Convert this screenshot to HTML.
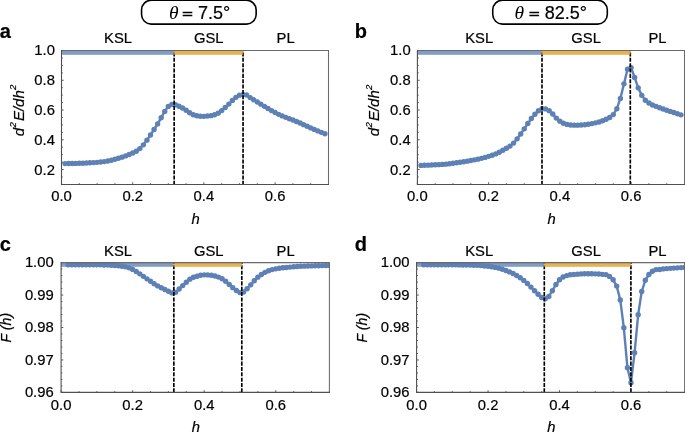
<!DOCTYPE html>
<html lang="en"><head><meta charset="utf-8"><title>Figure</title>
<style>html,body{margin:0;padding:0;background:#fff;}body{width:685px;height:432px;overflow:hidden;}svg{display:block;}text{font-family:"Liberation Sans",Arial,Helvetica,sans-serif;fill:#000;stroke:#000;stroke-width:0.2px;}.t{font-size:14.8px;}.pl{font-size:20px;font-weight:bold;}.it{font-style:italic;}.ti{font-size:18px;}.th{font-family:"Liberation Serif","Times New Roman",serif;font-style:italic;font-size:19.5px;stroke-width:0;}.yl{font-size:15px;}</style></head><body>
<svg width="685" height="432" viewBox="0 0 685 432">
<rect width="685" height="432" fill="#fff"/>
<rect x="141.55" y="0.25" width="114.60" height="23.85" rx="9.6" ry="9.6" fill="#fff" stroke="#000" stroke-width="1.6"/>
<text class="th" x="169.0" y="18.9">θ</text>
<text class="ti" transform="translate(182.2 17.6) scale(1 0.69)" style="stroke-width:0.9px">=</text>
<text class="ti" x="198.0" y="19.3">7.5°</text>
<rect x="492.75" y="0.25" width="114.55" height="23.85" rx="9.6" ry="9.6" fill="#fff" stroke="#000" stroke-width="1.6"/>
<text class="th" x="514.4" y="18.9">θ</text>
<text class="ti" transform="translate(529.0 17.6) scale(1 0.69)" style="stroke-width:0.9px">=</text>
<text class="ti" x="544.8" y="19.3">82.5°</text>
<g id="panel-a">
<clipPath id="clip-a"><rect x="61.5" y="47.5" width="267.5" height="136.95"/></clipPath>
<g clip-path="url(#clip-a)">
<path d="M65.06 163.60 L68.62 163.52 L72.18 163.45 L75.74 163.39 L79.30 163.32 L82.86 163.21 L86.42 163.03 L89.98 162.82 L93.54 162.59 L97.10 162.35 L100.66 162.03 L104.22 161.61 L107.78 161.03 L111.34 160.23 L114.90 159.29 L118.46 158.26 L122.02 157.16 L125.58 155.90 L129.14 154.53 L132.70 153.07 L136.26 151.19 L139.82 148.62 L143.38 144.86 L146.94 140.14 L150.50 134.95 L154.06 129.51 L157.62 123.91 L161.18 117.79 L164.74 111.39 L168.30 106.38 L171.86 104.39 L175.42 104.79 L178.98 106.24 L182.54 107.97 L186.10 110.25 L189.66 112.78 L193.22 114.70 L196.78 115.78 L200.34 116.31 L203.90 116.35 L207.46 116.05 L211.02 115.63 L214.58 114.80 L218.14 113.14 L221.70 110.59 L225.26 107.54 L228.82 104.12 L232.38 100.42 L235.94 97.37 L239.50 95.17 L243.06 94.59 L246.62 95.01 L250.18 97.61 L253.74 99.82 L257.30 102.01 L260.86 104.17 L264.42 106.33 L267.98 108.49 L271.54 110.59 L275.10 112.57 L278.66 114.35 L282.22 115.92 L285.78 117.34 L289.34 118.69 L292.90 120.04 L296.46 121.46 L300.02 123.03 L303.58 124.67 L307.14 126.32 L310.70 127.92 L314.26 129.42 L317.82 130.89 L321.38 132.34 L324.94 133.81" fill="none" stroke="#5E81B5" stroke-width="2.4" stroke-linejoin="round" stroke-linecap="round"/>
<g fill="#5E81B5"><circle cx="65.06" cy="163.60" r="2.7"/><circle cx="68.62" cy="163.52" r="2.7"/><circle cx="72.18" cy="163.45" r="2.7"/><circle cx="75.74" cy="163.39" r="2.7"/><circle cx="79.30" cy="163.32" r="2.7"/><circle cx="82.86" cy="163.21" r="2.7"/><circle cx="86.42" cy="163.03" r="2.7"/><circle cx="89.98" cy="162.82" r="2.7"/><circle cx="93.54" cy="162.59" r="2.7"/><circle cx="97.10" cy="162.35" r="2.7"/><circle cx="100.66" cy="162.03" r="2.7"/><circle cx="104.22" cy="161.61" r="2.7"/><circle cx="107.78" cy="161.03" r="2.7"/><circle cx="111.34" cy="160.23" r="2.7"/><circle cx="114.90" cy="159.29" r="2.7"/><circle cx="118.46" cy="158.26" r="2.7"/><circle cx="122.02" cy="157.16" r="2.7"/><circle cx="125.58" cy="155.90" r="2.7"/><circle cx="129.14" cy="154.53" r="2.7"/><circle cx="132.70" cy="153.07" r="2.7"/><circle cx="136.26" cy="151.19" r="2.7"/><circle cx="139.82" cy="148.62" r="2.7"/><circle cx="143.38" cy="144.86" r="2.7"/><circle cx="146.94" cy="140.14" r="2.7"/><circle cx="150.50" cy="134.95" r="2.7"/><circle cx="154.06" cy="129.51" r="2.7"/><circle cx="157.62" cy="123.91" r="2.7"/><circle cx="161.18" cy="117.79" r="2.7"/><circle cx="164.74" cy="111.39" r="2.7"/><circle cx="168.30" cy="106.38" r="2.7"/><circle cx="171.86" cy="104.39" r="2.7"/><circle cx="175.42" cy="104.79" r="2.7"/><circle cx="178.98" cy="106.24" r="2.7"/><circle cx="182.54" cy="107.97" r="2.7"/><circle cx="186.10" cy="110.25" r="2.7"/><circle cx="189.66" cy="112.78" r="2.7"/><circle cx="193.22" cy="114.70" r="2.7"/><circle cx="196.78" cy="115.78" r="2.7"/><circle cx="200.34" cy="116.31" r="2.7"/><circle cx="203.90" cy="116.35" r="2.7"/><circle cx="207.46" cy="116.05" r="2.7"/><circle cx="211.02" cy="115.63" r="2.7"/><circle cx="214.58" cy="114.80" r="2.7"/><circle cx="218.14" cy="113.14" r="2.7"/><circle cx="221.70" cy="110.59" r="2.7"/><circle cx="225.26" cy="107.54" r="2.7"/><circle cx="228.82" cy="104.12" r="2.7"/><circle cx="232.38" cy="100.42" r="2.7"/><circle cx="235.94" cy="97.37" r="2.7"/><circle cx="239.50" cy="95.17" r="2.7"/><circle cx="243.06" cy="94.59" r="2.7"/><circle cx="246.62" cy="95.01" r="2.7"/><circle cx="250.18" cy="97.61" r="2.7"/><circle cx="253.74" cy="99.82" r="2.7"/><circle cx="257.30" cy="102.01" r="2.7"/><circle cx="260.86" cy="104.17" r="2.7"/><circle cx="264.42" cy="106.33" r="2.7"/><circle cx="267.98" cy="108.49" r="2.7"/><circle cx="271.54" cy="110.59" r="2.7"/><circle cx="275.10" cy="112.57" r="2.7"/><circle cx="278.66" cy="114.35" r="2.7"/><circle cx="282.22" cy="115.92" r="2.7"/><circle cx="285.78" cy="117.34" r="2.7"/><circle cx="289.34" cy="118.69" r="2.7"/><circle cx="292.90" cy="120.04" r="2.7"/><circle cx="296.46" cy="121.46" r="2.7"/><circle cx="300.02" cy="123.03" r="2.7"/><circle cx="303.58" cy="124.67" r="2.7"/><circle cx="307.14" cy="126.32" r="2.7"/><circle cx="310.70" cy="127.92" r="2.7"/><circle cx="314.26" cy="129.42" r="2.7"/><circle cx="317.82" cy="130.89" r="2.7"/><circle cx="321.38" cy="132.34" r="2.7"/><circle cx="324.94" cy="133.81" r="2.7"/></g>
</g>
<line x1="174.15" y1="50.5" x2="174.15" y2="184.45" stroke="#000" stroke-width="1.65" stroke-dasharray="4.05 1.3" stroke-dashoffset="3.39"/>
<line x1="243.05" y1="50.5" x2="243.05" y2="184.45" stroke="#000" stroke-width="1.65" stroke-dasharray="4.05 1.3" stroke-dashoffset="3.39"/>
<rect x="61.5" y="50.5" width="112.35" height="4.3" fill="#5E81B5" fill-opacity="0.78"/>
<rect x="173.85" y="50.5" width="69.40" height="4.3" fill="#E19C24" fill-opacity="0.78"/>
<path d="M61.50 184.45 v-2.2 M79.30 184.45 v-1.3 M97.10 184.45 v-1.3 M114.90 184.45 v-1.3 M132.70 184.45 v-2.2 M150.50 184.45 v-1.3 M168.30 184.45 v-1.3 M186.10 184.45 v-1.3 M203.90 184.45 v-2.2 M221.70 184.45 v-1.3 M239.50 184.45 v-1.3 M257.30 184.45 v-1.3 M275.10 184.45 v-2.2 M292.90 184.45 v-1.3 M310.70 184.45 v-1.3 M328.50 184.45 v-1.3 M61.5 184.45 h1.3 M61.5 177.01 h1.3 M61.5 169.57 h2.2 M61.5 162.12 h1.3 M61.5 154.68 h1.3 M61.5 147.24 h1.3 M61.5 139.80 h2.2 M61.5 132.36 h1.3 M61.5 124.92 h1.3 M61.5 117.47 h1.3 M61.5 110.03 h2.2 M61.5 102.59 h1.3 M61.5 95.15 h1.3 M61.5 87.71 h1.3 M61.5 80.27 h2.2 M61.5 72.83 h1.3 M61.5 65.38 h1.3 M61.5 57.94 h1.3 M61.5 50.50 h2.2" stroke="#333" stroke-width="0.8" fill="none"/>
<path d="M61.5 50.5 H328.5 V184.45" fill="none" stroke="#6a6a6a" stroke-width="1.05"/>
<path d="M61.5 50.0 V184.45 H329.0" fill="none" stroke="#505050" stroke-width="1.1"/>
<text class="t" text-anchor="end" x="54.9" y="174.5">0.2</text>
<text class="t" text-anchor="end" x="54.9" y="144.7">0.4</text>
<text class="t" text-anchor="end" x="54.9" y="114.9">0.6</text>
<text class="t" text-anchor="end" x="54.9" y="85.2">0.8</text>
<text class="t" text-anchor="end" x="54.9" y="55.4">1.0</text>
<text class="t" text-anchor="middle" x="61.5" y="201.0">0.0</text>
<text class="t" text-anchor="middle" x="132.7" y="201.0">0.2</text>
<text class="t" text-anchor="middle" x="203.9" y="201.0">0.4</text>
<text class="t" text-anchor="middle" x="275.1" y="201.0">0.6</text>
<text class="t it" text-anchor="middle" x="195.7" y="223.7">h</text>
<text class="t" text-anchor="middle" x="118.0" y="43.3">KSL</text>
<text class="t" text-anchor="middle" x="208.8" y="43.3">GSL</text>
<text class="t" text-anchor="middle" x="285.6" y="43.3">PL</text>
<text class="yl it" transform="translate(23.6 136.2) rotate(-90)">d<tspan font-size="9.5" dy="-7.2" dx="0.3">2</tspan><tspan dy="7.2" dx="1.2">E/dh</tspan><tspan font-size="9.5" dy="-7.2" dx="0.3">2</tspan></text>
<text class="pl" x="-0.3" y="37.6">a</text>
</g>
<g id="panel-b">
<clipPath id="clip-b"><rect x="417.4" y="47.5" width="267.6" height="136.95"/></clipPath>
<g clip-path="url(#clip-b)">
<path d="M420.96 165.40 L424.52 165.28 L428.08 165.15 L431.65 165.00 L435.21 164.82 L438.77 164.63 L442.33 164.40 L445.89 164.14 L449.45 163.78 L453.01 163.32 L456.57 162.81 L460.14 162.28 L463.70 161.73 L467.26 161.13 L470.82 160.50 L474.38 159.85 L477.94 159.15 L481.50 158.33 L485.07 157.39 L488.63 156.36 L492.19 155.23 L495.75 153.92 L499.31 152.21 L502.87 150.27 L506.43 148.27 L509.99 146.12 L513.56 143.11 L517.12 138.83 L520.68 133.93 L524.24 128.85 L527.80 123.56 L531.36 118.48 L534.92 114.28 L538.49 110.68 L542.05 108.66 L545.61 108.88 L549.17 110.72 L552.73 114.01 L556.29 118.12 L559.85 121.13 L563.41 123.18 L566.98 124.38 L570.54 124.99 L574.10 125.16 L577.66 125.16 L581.22 125.02 L584.78 124.73 L588.34 124.25 L591.91 123.61 L595.47 122.86 L599.03 121.94 L602.59 120.70 L606.15 119.32 L609.71 117.48 L613.27 114.61 L616.83 108.69 L620.40 98.40 L623.96 83.86 L627.52 69.32 L631.08 67.79 L634.64 77.43 L638.20 87.83 L641.76 95.37 L645.33 100.29 L648.89 102.94 L652.45 104.94 L656.01 106.35 L659.57 107.72 L663.13 109.03 L666.69 110.22 L670.25 111.38 L673.82 112.53 L677.38 113.68 L680.94 114.85" fill="none" stroke="#5E81B5" stroke-width="2.4" stroke-linejoin="round" stroke-linecap="round"/>
<g fill="#5E81B5"><circle cx="420.96" cy="165.40" r="2.7"/><circle cx="424.52" cy="165.28" r="2.7"/><circle cx="428.08" cy="165.15" r="2.7"/><circle cx="431.65" cy="165.00" r="2.7"/><circle cx="435.21" cy="164.82" r="2.7"/><circle cx="438.77" cy="164.63" r="2.7"/><circle cx="442.33" cy="164.40" r="2.7"/><circle cx="445.89" cy="164.14" r="2.7"/><circle cx="449.45" cy="163.78" r="2.7"/><circle cx="453.01" cy="163.32" r="2.7"/><circle cx="456.57" cy="162.81" r="2.7"/><circle cx="460.14" cy="162.28" r="2.7"/><circle cx="463.70" cy="161.73" r="2.7"/><circle cx="467.26" cy="161.13" r="2.7"/><circle cx="470.82" cy="160.50" r="2.7"/><circle cx="474.38" cy="159.85" r="2.7"/><circle cx="477.94" cy="159.15" r="2.7"/><circle cx="481.50" cy="158.33" r="2.7"/><circle cx="485.07" cy="157.39" r="2.7"/><circle cx="488.63" cy="156.36" r="2.7"/><circle cx="492.19" cy="155.23" r="2.7"/><circle cx="495.75" cy="153.92" r="2.7"/><circle cx="499.31" cy="152.21" r="2.7"/><circle cx="502.87" cy="150.27" r="2.7"/><circle cx="506.43" cy="148.27" r="2.7"/><circle cx="509.99" cy="146.12" r="2.7"/><circle cx="513.56" cy="143.11" r="2.7"/><circle cx="517.12" cy="138.83" r="2.7"/><circle cx="520.68" cy="133.93" r="2.7"/><circle cx="524.24" cy="128.85" r="2.7"/><circle cx="527.80" cy="123.56" r="2.7"/><circle cx="531.36" cy="118.48" r="2.7"/><circle cx="534.92" cy="114.28" r="2.7"/><circle cx="538.49" cy="110.68" r="2.7"/><circle cx="542.05" cy="108.66" r="2.7"/><circle cx="545.61" cy="108.88" r="2.7"/><circle cx="549.17" cy="110.72" r="2.7"/><circle cx="552.73" cy="114.01" r="2.7"/><circle cx="556.29" cy="118.12" r="2.7"/><circle cx="559.85" cy="121.13" r="2.7"/><circle cx="563.41" cy="123.18" r="2.7"/><circle cx="566.98" cy="124.38" r="2.7"/><circle cx="570.54" cy="124.99" r="2.7"/><circle cx="574.10" cy="125.16" r="2.7"/><circle cx="577.66" cy="125.16" r="2.7"/><circle cx="581.22" cy="125.02" r="2.7"/><circle cx="584.78" cy="124.73" r="2.7"/><circle cx="588.34" cy="124.25" r="2.7"/><circle cx="591.91" cy="123.61" r="2.7"/><circle cx="595.47" cy="122.86" r="2.7"/><circle cx="599.03" cy="121.94" r="2.7"/><circle cx="602.59" cy="120.70" r="2.7"/><circle cx="606.15" cy="119.32" r="2.7"/><circle cx="609.71" cy="117.48" r="2.7"/><circle cx="613.27" cy="114.61" r="2.7"/><circle cx="616.83" cy="108.69" r="2.7"/><circle cx="620.40" cy="98.40" r="2.7"/><circle cx="623.96" cy="83.86" r="2.7"/><circle cx="627.52" cy="69.32" r="2.7"/><circle cx="631.08" cy="67.79" r="2.7"/><circle cx="634.64" cy="77.43" r="2.7"/><circle cx="638.20" cy="87.83" r="2.7"/><circle cx="641.76" cy="95.37" r="2.7"/><circle cx="645.33" cy="100.29" r="2.7"/><circle cx="648.89" cy="102.94" r="2.7"/><circle cx="652.45" cy="104.94" r="2.7"/><circle cx="656.01" cy="106.35" r="2.7"/><circle cx="659.57" cy="107.72" r="2.7"/><circle cx="663.13" cy="109.03" r="2.7"/><circle cx="666.69" cy="110.22" r="2.7"/><circle cx="670.25" cy="111.38" r="2.7"/><circle cx="673.82" cy="112.53" r="2.7"/><circle cx="677.38" cy="113.68" r="2.7"/><circle cx="680.94" cy="114.85" r="2.7"/></g>
</g>
<line x1="542.0" y1="50.5" x2="542.0" y2="184.45" stroke="#000" stroke-width="1.65" stroke-dasharray="4.05 1.3" stroke-dashoffset="3.39"/>
<line x1="630.3" y1="50.5" x2="630.3" y2="184.45" stroke="#000" stroke-width="1.65" stroke-dasharray="4.05 1.3" stroke-dashoffset="3.39"/>
<rect x="417.4" y="50.5" width="124.30" height="4.3" fill="#5E81B5" fill-opacity="0.78"/>
<rect x="541.70" y="50.5" width="88.80" height="4.3" fill="#E19C24" fill-opacity="0.78"/>
<path d="M417.40 184.45 v-2.2 M435.21 184.45 v-1.3 M453.01 184.45 v-1.3 M470.82 184.45 v-1.3 M488.63 184.45 v-2.2 M506.43 184.45 v-1.3 M524.24 184.45 v-1.3 M542.05 184.45 v-1.3 M559.85 184.45 v-2.2 M577.66 184.45 v-1.3 M595.47 184.45 v-1.3 M613.27 184.45 v-1.3 M631.08 184.45 v-2.2 M648.89 184.45 v-1.3 M666.69 184.45 v-1.3 M684.50 184.45 v-1.3 M417.4 184.45 h1.3 M417.4 177.01 h1.3 M417.4 169.57 h2.2 M417.4 162.12 h1.3 M417.4 154.68 h1.3 M417.4 147.24 h1.3 M417.4 139.80 h2.2 M417.4 132.36 h1.3 M417.4 124.92 h1.3 M417.4 117.47 h1.3 M417.4 110.03 h2.2 M417.4 102.59 h1.3 M417.4 95.15 h1.3 M417.4 87.71 h1.3 M417.4 80.27 h2.2 M417.4 72.83 h1.3 M417.4 65.38 h1.3 M417.4 57.94 h1.3 M417.4 50.50 h2.2" stroke="#333" stroke-width="0.8" fill="none"/>
<path d="M417.4 50.5 H684.5 V184.45" fill="none" stroke="#6a6a6a" stroke-width="1.05"/>
<path d="M417.4 50.0 V184.45 H685.0" fill="none" stroke="#505050" stroke-width="1.1"/>
<text class="t" text-anchor="end" x="410.7" y="174.5">0.2</text>
<text class="t" text-anchor="end" x="410.7" y="144.7">0.4</text>
<text class="t" text-anchor="end" x="410.7" y="114.9">0.6</text>
<text class="t" text-anchor="end" x="410.7" y="85.2">0.8</text>
<text class="t" text-anchor="end" x="410.7" y="55.4">1.0</text>
<text class="t" text-anchor="middle" x="417.4" y="201.0">0.0</text>
<text class="t" text-anchor="middle" x="488.6" y="201.0">0.2</text>
<text class="t" text-anchor="middle" x="559.9" y="201.0">0.4</text>
<text class="t" text-anchor="middle" x="631.1" y="201.0">0.6</text>
<text class="t it" text-anchor="middle" x="551.7" y="223.7">h</text>
<text class="t" text-anchor="middle" x="479.2" y="43.3">KSL</text>
<text class="t" text-anchor="middle" x="586.1" y="43.3">GSL</text>
<text class="t" text-anchor="middle" x="657.5" y="43.3">PL</text>
<text class="yl it" transform="translate(379.4 136.2) rotate(-90)">d<tspan font-size="9.5" dy="-7.2" dx="0.3">2</tspan><tspan dy="7.2" dx="1.2">E/dh</tspan><tspan font-size="9.5" dy="-7.2" dx="0.3">2</tspan></text>
<text class="pl" x="354.8" y="37.6">b</text>
</g>
<g id="panel-c">
<clipPath id="clip-c"><rect x="61.1" y="259.6" width="268.79999999999995" height="132.79999999999995"/></clipPath>
<g clip-path="url(#clip-c)">
<path d="M68.25 264.70 L71.83 264.70 L75.41 264.71 L78.99 264.72 L82.56 264.74 L86.14 264.76 L89.72 264.77 L93.30 264.79 L96.87 264.82 L100.45 264.87 L104.03 264.96 L107.61 265.08 L111.18 265.21 L114.76 265.46 L118.34 265.82 L121.91 266.22 L125.49 266.84 L129.07 267.83 L132.65 269.39 L136.22 271.44 L139.80 273.84 L143.38 276.36 L146.96 278.86 L150.53 281.29 L154.11 283.72 L157.69 285.88 L161.27 287.72 L164.84 289.48 L168.42 291.24 L172.00 292.91 L175.57 292.36 L179.15 289.00 L182.73 285.58 L186.31 282.21 L189.88 279.15 L193.46 277.24 L197.04 276.22 L200.62 275.28 L204.19 274.83 L207.77 274.88 L211.35 275.29 L214.93 276.04 L218.50 277.12 L222.08 278.76 L225.66 281.26 L229.23 284.45 L232.81 287.63 L236.39 290.43 L239.97 292.58 L243.54 291.97 L247.12 288.81 L250.70 284.87 L254.28 280.70 L257.85 277.17 L261.43 274.44 L265.01 272.34 L268.59 270.70 L272.16 269.62 L275.74 268.85 L279.32 268.23 L282.89 267.81 L286.47 267.45 L290.05 267.09 L293.63 266.76 L297.20 266.47 L300.78 266.26 L304.36 266.14 L307.94 266.02 L311.51 265.91 L315.09 265.79 L318.67 265.69 L322.25 265.58 L325.82 265.48 L329.40 265.39" fill="none" stroke="#5E81B5" stroke-width="2.4" stroke-linejoin="round" stroke-linecap="round"/>
<g fill="#5E81B5"><circle cx="68.25" cy="264.70" r="2.7"/><circle cx="71.83" cy="264.70" r="2.7"/><circle cx="75.41" cy="264.71" r="2.7"/><circle cx="78.99" cy="264.72" r="2.7"/><circle cx="82.56" cy="264.74" r="2.7"/><circle cx="86.14" cy="264.76" r="2.7"/><circle cx="89.72" cy="264.77" r="2.7"/><circle cx="93.30" cy="264.79" r="2.7"/><circle cx="96.87" cy="264.82" r="2.7"/><circle cx="100.45" cy="264.87" r="2.7"/><circle cx="104.03" cy="264.96" r="2.7"/><circle cx="107.61" cy="265.08" r="2.7"/><circle cx="111.18" cy="265.21" r="2.7"/><circle cx="114.76" cy="265.46" r="2.7"/><circle cx="118.34" cy="265.82" r="2.7"/><circle cx="121.91" cy="266.22" r="2.7"/><circle cx="125.49" cy="266.84" r="2.7"/><circle cx="129.07" cy="267.83" r="2.7"/><circle cx="132.65" cy="269.39" r="2.7"/><circle cx="136.22" cy="271.44" r="2.7"/><circle cx="139.80" cy="273.84" r="2.7"/><circle cx="143.38" cy="276.36" r="2.7"/><circle cx="146.96" cy="278.86" r="2.7"/><circle cx="150.53" cy="281.29" r="2.7"/><circle cx="154.11" cy="283.72" r="2.7"/><circle cx="157.69" cy="285.88" r="2.7"/><circle cx="161.27" cy="287.72" r="2.7"/><circle cx="164.84" cy="289.48" r="2.7"/><circle cx="168.42" cy="291.24" r="2.7"/><circle cx="172.00" cy="292.91" r="2.7"/><circle cx="175.57" cy="292.36" r="2.7"/><circle cx="179.15" cy="289.00" r="2.7"/><circle cx="182.73" cy="285.58" r="2.7"/><circle cx="186.31" cy="282.21" r="2.7"/><circle cx="189.88" cy="279.15" r="2.7"/><circle cx="193.46" cy="277.24" r="2.7"/><circle cx="197.04" cy="276.22" r="2.7"/><circle cx="200.62" cy="275.28" r="2.7"/><circle cx="204.19" cy="274.83" r="2.7"/><circle cx="207.77" cy="274.88" r="2.7"/><circle cx="211.35" cy="275.29" r="2.7"/><circle cx="214.93" cy="276.04" r="2.7"/><circle cx="218.50" cy="277.12" r="2.7"/><circle cx="222.08" cy="278.76" r="2.7"/><circle cx="225.66" cy="281.26" r="2.7"/><circle cx="229.23" cy="284.45" r="2.7"/><circle cx="232.81" cy="287.63" r="2.7"/><circle cx="236.39" cy="290.43" r="2.7"/><circle cx="239.97" cy="292.58" r="2.7"/><circle cx="243.54" cy="291.97" r="2.7"/><circle cx="247.12" cy="288.81" r="2.7"/><circle cx="250.70" cy="284.87" r="2.7"/><circle cx="254.28" cy="280.70" r="2.7"/><circle cx="257.85" cy="277.17" r="2.7"/><circle cx="261.43" cy="274.44" r="2.7"/><circle cx="265.01" cy="272.34" r="2.7"/><circle cx="268.59" cy="270.70" r="2.7"/><circle cx="272.16" cy="269.62" r="2.7"/><circle cx="275.74" cy="268.85" r="2.7"/><circle cx="279.32" cy="268.23" r="2.7"/><circle cx="282.89" cy="267.81" r="2.7"/><circle cx="286.47" cy="267.45" r="2.7"/><circle cx="290.05" cy="267.09" r="2.7"/><circle cx="293.63" cy="266.76" r="2.7"/><circle cx="297.20" cy="266.47" r="2.7"/><circle cx="300.78" cy="266.26" r="2.7"/><circle cx="304.36" cy="266.14" r="2.7"/><circle cx="307.94" cy="266.02" r="2.7"/><circle cx="311.51" cy="265.91" r="2.7"/><circle cx="315.09" cy="265.79" r="2.7"/><circle cx="318.67" cy="265.69" r="2.7"/><circle cx="322.25" cy="265.58" r="2.7"/><circle cx="325.82" cy="265.48" r="2.7"/><circle cx="329.40" cy="265.39" r="2.7"/></g>
</g>
<line x1="173.85" y1="262.6" x2="173.85" y2="392.4" stroke="#000" stroke-width="1.65" stroke-dasharray="4.05 1.3" stroke-dashoffset="2.66"/>
<line x1="241.8" y1="262.6" x2="241.8" y2="392.4" stroke="#000" stroke-width="1.65" stroke-dasharray="4.05 1.3" stroke-dashoffset="2.66"/>
<rect x="61.1" y="262.6" width="112.45" height="4.2" fill="#5E81B5" fill-opacity="0.78"/>
<rect x="173.55" y="262.6" width="68.45" height="4.2" fill="#E19C24" fill-opacity="0.78"/>
<path d="M61.10 392.4 v-2.2 M78.99 392.4 v-1.3 M96.87 392.4 v-1.3 M114.76 392.4 v-1.3 M132.65 392.4 v-2.2 M150.53 392.4 v-1.3 M168.42 392.4 v-1.3 M186.31 392.4 v-1.3 M204.19 392.4 v-2.2 M222.08 392.4 v-1.3 M239.97 392.4 v-1.3 M257.85 392.4 v-1.3 M275.74 392.4 v-2.2 M293.63 392.4 v-1.3 M311.51 392.4 v-1.3 M329.40 392.4 v-1.3 M61.1 392.40 h2.2 M61.1 385.91 h1.3 M61.1 379.42 h1.3 M61.1 372.93 h1.3 M61.1 366.44 h1.3 M61.1 359.95 h2.2 M61.1 353.46 h1.3 M61.1 346.97 h1.3 M61.1 340.48 h1.3 M61.1 333.99 h1.3 M61.1 327.50 h2.2 M61.1 321.01 h1.3 M61.1 314.52 h1.3 M61.1 308.03 h1.3 M61.1 301.54 h1.3 M61.1 295.05 h2.2 M61.1 288.56 h1.3 M61.1 282.07 h1.3 M61.1 275.58 h1.3 M61.1 269.09 h1.3 M61.1 262.60 h2.2" stroke="#333" stroke-width="0.8" fill="none"/>
<path d="M61.1 262.6 H329.4 V392.4" fill="none" stroke="#6a6a6a" stroke-width="1.05"/>
<path d="M61.1 262.1 V392.4 H329.9" fill="none" stroke="#505050" stroke-width="1.1"/>
<text class="t" text-anchor="end" x="53.7" y="397.2">0.96</text>
<text class="t" text-anchor="end" x="53.7" y="364.8">0.97</text>
<text class="t" text-anchor="end" x="53.7" y="332.3">0.98</text>
<text class="t" text-anchor="end" x="53.7" y="299.9">0.99</text>
<text class="t" text-anchor="end" x="53.7" y="267.4">1.00</text>
<text class="t" text-anchor="middle" x="61.1" y="410.1">0.0</text>
<text class="t" text-anchor="middle" x="132.6" y="410.1">0.2</text>
<text class="t" text-anchor="middle" x="204.2" y="410.1">0.4</text>
<text class="t" text-anchor="middle" x="275.7" y="410.1">0.6</text>
<text class="t it" text-anchor="middle" x="195.9" y="431.9">h</text>
<text class="t" text-anchor="middle" x="118.0" y="255.5">KSL</text>
<text class="t" text-anchor="middle" x="208.8" y="255.5">GSL</text>
<text class="t" text-anchor="middle" x="285.6" y="255.5">PL</text>
<text class="t it" style="font-size:14.2px" text-anchor="middle" transform="translate(10.9 327.7) rotate(-90)">F (h)</text>
<text class="pl" x="-0.3" y="250.6">c</text>
</g>
<g id="panel-d">
<clipPath id="clip-d"><rect x="416.6" y="259.6" width="268.5" height="132.79999999999995"/></clipPath>
<g clip-path="url(#clip-d)">
<path d="M423.75 264.70 L427.32 264.71 L430.89 264.72 L434.47 264.73 L438.04 264.75 L441.61 264.77 L445.19 264.79 L448.76 264.82 L452.33 264.84 L455.91 264.87 L459.48 264.90 L463.05 264.94 L466.63 265.01 L470.20 265.10 L473.77 265.22 L477.35 265.36 L480.92 265.61 L484.49 265.95 L488.07 266.31 L491.64 266.79 L495.21 267.39 L498.79 268.16 L502.36 269.23 L505.93 270.50 L509.51 271.90 L513.08 273.54 L516.65 275.48 L520.23 277.74 L523.80 280.41 L527.37 283.57 L530.95 287.12 L534.52 290.73 L538.09 294.22 L541.67 297.55 L545.24 298.68 L548.81 296.45 L552.39 290.70 L555.96 284.50 L559.53 279.72 L563.11 276.98 L566.68 275.60 L570.25 274.79 L573.83 274.43 L577.40 274.14 L580.97 273.91 L584.55 273.77 L588.12 273.72 L591.69 273.76 L595.27 273.86 L598.84 274.02 L602.41 274.37 L605.99 274.60 L609.56 276.40 L613.13 279.80 L616.71 286.10 L620.28 300.00 L623.85 327.80 L627.43 367.80 L631.00 382.70 L634.57 352.80 L638.15 314.80 L641.72 291.50 L645.29 280.30 L648.87 274.50 L652.44 271.30 L656.01 269.60 L659.59 269.55 L663.16 268.90 L666.73 268.61 L670.31 268.34 L673.88 268.08 L677.45 267.83 L681.03 267.59 L684.60 267.38" fill="none" stroke="#5E81B5" stroke-width="2.4" stroke-linejoin="round" stroke-linecap="round"/>
<g fill="#5E81B5"><circle cx="423.75" cy="264.70" r="2.7"/><circle cx="427.32" cy="264.71" r="2.7"/><circle cx="430.89" cy="264.72" r="2.7"/><circle cx="434.47" cy="264.73" r="2.7"/><circle cx="438.04" cy="264.75" r="2.7"/><circle cx="441.61" cy="264.77" r="2.7"/><circle cx="445.19" cy="264.79" r="2.7"/><circle cx="448.76" cy="264.82" r="2.7"/><circle cx="452.33" cy="264.84" r="2.7"/><circle cx="455.91" cy="264.87" r="2.7"/><circle cx="459.48" cy="264.90" r="2.7"/><circle cx="463.05" cy="264.94" r="2.7"/><circle cx="466.63" cy="265.01" r="2.7"/><circle cx="470.20" cy="265.10" r="2.7"/><circle cx="473.77" cy="265.22" r="2.7"/><circle cx="477.35" cy="265.36" r="2.7"/><circle cx="480.92" cy="265.61" r="2.7"/><circle cx="484.49" cy="265.95" r="2.7"/><circle cx="488.07" cy="266.31" r="2.7"/><circle cx="491.64" cy="266.79" r="2.7"/><circle cx="495.21" cy="267.39" r="2.7"/><circle cx="498.79" cy="268.16" r="2.7"/><circle cx="502.36" cy="269.23" r="2.7"/><circle cx="505.93" cy="270.50" r="2.7"/><circle cx="509.51" cy="271.90" r="2.7"/><circle cx="513.08" cy="273.54" r="2.7"/><circle cx="516.65" cy="275.48" r="2.7"/><circle cx="520.23" cy="277.74" r="2.7"/><circle cx="523.80" cy="280.41" r="2.7"/><circle cx="527.37" cy="283.57" r="2.7"/><circle cx="530.95" cy="287.12" r="2.7"/><circle cx="534.52" cy="290.73" r="2.7"/><circle cx="538.09" cy="294.22" r="2.7"/><circle cx="541.67" cy="297.55" r="2.7"/><circle cx="545.24" cy="298.68" r="2.7"/><circle cx="548.81" cy="296.45" r="2.7"/><circle cx="552.39" cy="290.70" r="2.7"/><circle cx="555.96" cy="284.50" r="2.7"/><circle cx="559.53" cy="279.72" r="2.7"/><circle cx="563.11" cy="276.98" r="2.7"/><circle cx="566.68" cy="275.60" r="2.7"/><circle cx="570.25" cy="274.79" r="2.7"/><circle cx="573.83" cy="274.43" r="2.7"/><circle cx="577.40" cy="274.14" r="2.7"/><circle cx="580.97" cy="273.91" r="2.7"/><circle cx="584.55" cy="273.77" r="2.7"/><circle cx="588.12" cy="273.72" r="2.7"/><circle cx="591.69" cy="273.76" r="2.7"/><circle cx="595.27" cy="273.86" r="2.7"/><circle cx="598.84" cy="274.02" r="2.7"/><circle cx="602.41" cy="274.37" r="2.7"/><circle cx="605.99" cy="274.60" r="2.7"/><circle cx="609.56" cy="276.40" r="2.7"/><circle cx="613.13" cy="279.80" r="2.7"/><circle cx="616.71" cy="286.10" r="2.7"/><circle cx="620.28" cy="300.00" r="2.7"/><circle cx="623.85" cy="327.80" r="2.7"/><circle cx="627.43" cy="367.80" r="2.7"/><circle cx="631.00" cy="382.70" r="2.7"/><circle cx="634.57" cy="352.80" r="2.7"/><circle cx="638.15" cy="314.80" r="2.7"/><circle cx="641.72" cy="291.50" r="2.7"/><circle cx="645.29" cy="280.30" r="2.7"/><circle cx="648.87" cy="274.50" r="2.7"/><circle cx="652.44" cy="271.30" r="2.7"/><circle cx="656.01" cy="269.60" r="2.7"/><circle cx="659.59" cy="269.55" r="2.7"/><circle cx="663.16" cy="268.90" r="2.7"/><circle cx="666.73" cy="268.61" r="2.7"/><circle cx="670.31" cy="268.34" r="2.7"/><circle cx="673.88" cy="268.08" r="2.7"/><circle cx="677.45" cy="267.83" r="2.7"/><circle cx="681.03" cy="267.59" r="2.7"/><circle cx="684.60" cy="267.38" r="2.7"/></g>
</g>
<line x1="544.3" y1="262.6" x2="544.3" y2="392.4" stroke="#000" stroke-width="1.65" stroke-dasharray="4.05 1.3" stroke-dashoffset="2.66"/>
<line x1="630.9" y1="262.6" x2="630.9" y2="392.4" stroke="#000" stroke-width="1.65" stroke-dasharray="4.05 1.3" stroke-dashoffset="2.66"/>
<rect x="416.6" y="262.6" width="127.40" height="4.2" fill="#5E81B5" fill-opacity="0.78"/>
<rect x="544.00" y="262.6" width="87.10" height="4.2" fill="#E19C24" fill-opacity="0.78"/>
<path d="M416.60 392.4 v-2.2 M434.47 392.4 v-1.3 M452.33 392.4 v-1.3 M470.20 392.4 v-1.3 M488.07 392.4 v-2.2 M505.93 392.4 v-1.3 M523.80 392.4 v-1.3 M541.67 392.4 v-1.3 M559.53 392.4 v-2.2 M577.40 392.4 v-1.3 M595.27 392.4 v-1.3 M613.13 392.4 v-1.3 M631.00 392.4 v-2.2 M648.87 392.4 v-1.3 M666.73 392.4 v-1.3 M684.60 392.4 v-1.3 M416.6 392.40 h2.2 M416.6 385.91 h1.3 M416.6 379.42 h1.3 M416.6 372.93 h1.3 M416.6 366.44 h1.3 M416.6 359.95 h2.2 M416.6 353.46 h1.3 M416.6 346.97 h1.3 M416.6 340.48 h1.3 M416.6 333.99 h1.3 M416.6 327.50 h2.2 M416.6 321.01 h1.3 M416.6 314.52 h1.3 M416.6 308.03 h1.3 M416.6 301.54 h1.3 M416.6 295.05 h2.2 M416.6 288.56 h1.3 M416.6 282.07 h1.3 M416.6 275.58 h1.3 M416.6 269.09 h1.3 M416.6 262.60 h2.2" stroke="#333" stroke-width="0.8" fill="none"/>
<path d="M416.6 262.6 H684.6 V392.4" fill="none" stroke="#6a6a6a" stroke-width="1.05"/>
<path d="M416.6 262.1 V392.4 H685.1" fill="none" stroke="#505050" stroke-width="1.1"/>
<text class="t" text-anchor="end" x="409.5" y="397.2">0.96</text>
<text class="t" text-anchor="end" x="409.5" y="364.8">0.97</text>
<text class="t" text-anchor="end" x="409.5" y="332.3">0.98</text>
<text class="t" text-anchor="end" x="409.5" y="299.9">0.99</text>
<text class="t" text-anchor="end" x="409.5" y="267.4">1.00</text>
<text class="t" text-anchor="middle" x="416.6" y="410.1">0.0</text>
<text class="t" text-anchor="middle" x="488.1" y="410.1">0.2</text>
<text class="t" text-anchor="middle" x="559.5" y="410.1">0.4</text>
<text class="t" text-anchor="middle" x="631.0" y="410.1">0.6</text>
<text class="t it" text-anchor="middle" x="551.3" y="431.9">h</text>
<text class="t" text-anchor="middle" x="479.2" y="255.5">KSL</text>
<text class="t" text-anchor="middle" x="586.1" y="255.5">GSL</text>
<text class="t" text-anchor="middle" x="657.5" y="255.5">PL</text>
<text class="t it" style="font-size:14.2px" text-anchor="middle" transform="translate(367.1 327.7) rotate(-90)">F (h)</text>
<text class="pl" x="354.8" y="250.6">d</text>
</g>
</svg></body></html>
